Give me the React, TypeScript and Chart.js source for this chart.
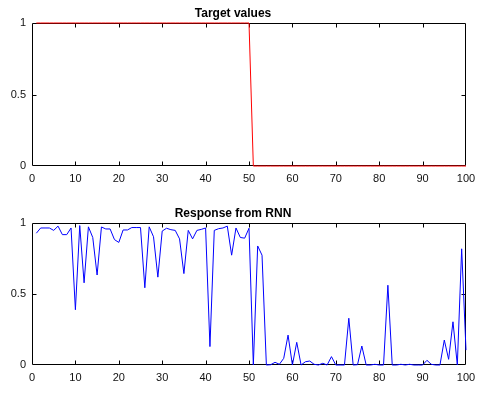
import React, { useEffect, useRef } from "react";
import { Chart, registerables } from "chart.js";

Chart.register(...registerables);

const targetValues: number[] = [
  1, 1, 1, 1, 1, 1, 1, 1, 1, 1,
  1, 1, 1, 1, 1, 1, 1, 1, 1, 1,
  1, 1, 1, 1, 1, 1, 1, 1, 1, 1,
  1, 1, 1, 1, 1, 1, 1, 1, 1, 1,
  1, 1, 1, 1, 1, 1, 1, 1, 1, 1,
  0, 0, 0, 0, 0, 0, 0, 0, 0, 0,
  0, 0, 0, 0, 0, 0, 0, 0, 0, 0,
  0, 0, 0, 0, 0, 0, 0, 0, 0, 0,
  0, 0, 0, 0, 0, 0, 0, 0, 0, 0,
  0, 0, 0, 0, 0, 0, 0, 0, 0, 0,
];

const rnnResponse: number[] = [
  0.93, 0.967, 0.967, 0.967, 0.95, 0.98, 0.92, 0.92, 0.967, 0.39,
  0.984, 0.58, 0.975, 0.9, 0.635, 0.974, 0.96, 0.96, 0.885, 0.865,
  0.953, 0.953, 0.97, 0.97, 0.97, 0.545, 0.975, 0.905, 0.62, 0.945,
  0.965, 0.955, 0.95, 0.89, 0.645, 0.95, 0.89, 0.95, 0.957, 0.967,
  0.13, 0.95, 0.962, 0.967, 0.98, 0.775, 0.967, 0.9, 0.895, 0.965,
  0.0, 0.84, 0.775, 0.0, 0.002, 0.019, 0.005, 0.047, 0.211, 0.0,
  0.16, 0.0, 0.023, 0.028, 0.005, 0.0, 0.012, 0.0, 0.059, 0.0,
  0.0, 0.0, 0.33, 0.0, 0.002, 0.134, 0.0, 0.0, 0.005, 0.0,
  0.0, 0.563, 0.0, 0.0, 0.005, 0.0, 0.005, 0.0, 0.0, 0.0,
  0.033, 0.005, 0.0, 0.0, 0.176, 0.04, 0.305, 0.0, 0.82, 0.105,
];

const xTickStep = 10;
const yTickStep = 0.5;
const xMin = 0;
const xMax = 100;
const yMin = 0;
const yMax = 1;

const FONT = "'Liberation Sans', Arial, Helvetica, sans-serif";

const boxPlugin = {
  id: "matlabBox",
  beforeDatasetsDraw(chart: any) {
    const { ctx, chartArea: a, scales } = chart;
    const L = Math.round(a.left) + 0.5;
    const R = Math.round(a.right) - 0.5;
    const T = Math.round(a.top) + 0.5;
    const B = Math.round(a.bottom) - 0.5;
    ctx.save();
    ctx.strokeStyle = "#000";
    ctx.lineWidth = 1;
    ctx.beginPath();
    ctx.rect(L, T, R - L, B - T);
    const tl = 4;
    scales.x.ticks.forEach((t: any) => {
      const px = Math.round(scales.x.getPixelForValue(t.value)) + 0.5;
      if (px <= L + 1 || px >= R - 1) return;
      ctx.moveTo(px, B);
      ctx.lineTo(px, B - tl);
      ctx.moveTo(px, T);
      ctx.lineTo(px, T + tl);
    });
    scales.y.ticks.forEach((t: any) => {
      const py = Math.round(scales.y.getPixelForValue(t.value)) + 0.5;
      if (py <= T + 1 || py >= B - 1) return;
      ctx.moveTo(L, py);
      ctx.lineTo(L + tl, py);
      ctx.moveTo(R, py);
      ctx.lineTo(R - tl, py);
    });
    ctx.stroke();
    ctx.restore();
  },
};

function makeConfig(title: string, values: number[], color: string, titleTop: number): any {
  const points = values.map((v, i) => ({ x: i + 1, y: v }));
  return {
    type: "line",
    data: {
      datasets: [
        {
          data: points,
          borderColor: color,
          borderWidth: 1,
          pointRadius: 0,
          tension: 0,
          fill: false,
          clip: false,
        },
      ],
    },
    options: {
      animation: false,
      responsive: false,
      maintainAspectRatio: false,
      layout: { padding: { left: 0, right: 24, top: 0, bottom: 0 } },
      plugins: {
        legend: { display: false },
        tooltip: { enabled: false },
        title: {
          display: true,
          text: title,
          color: "#000",
          font: { family: FONT, size: 12, weight: "bold", lineHeight: 1.2 },
          padding: { top: titleTop, bottom: 2.6 },
        },
      },
      scales: {
        x: {
          type: "linear",
          min: xMin,
          max: xMax,
          grid: { display: false, drawTicks: false },
          border: { display: false },
          ticks: {
            stepSize: xTickStep,
            color: "#111",
            font: { family: FONT, size: 11 },
            padding: 6,
            maxRotation: 0,
            autoSkip: false,
            callback: (v: any) => String(v),
          },
          afterFit: (s: any) => {
            s.height = 32;
          },
        },
        y: {
          type: "linear",
          min: yMin,
          max: yMax,
          grid: { display: false, drawTicks: false },
          border: { display: false },
          ticks: {
            stepSize: yTickStep,
            color: "#111",
            font: { family: FONT, size: 11 },
            padding: 6,
            callback: (v: any) => String(v),
          },
          afterFit: (s: any) => {
            s.width = 32;
          },
        },
      },
    },
    plugins: [boxPlugin],
  };
}

function Panel(props: { title: string; values: number[]; color: string; top: number; height: number; titleTop: number }) {
  const ref = useRef<HTMLCanvasElement | null>(null);
  useEffect(() => {
    if (!ref.current) return;
    const chart = new Chart(ref.current, makeConfig(props.title, props.values, props.color, props.titleTop));
    return () => chart.destroy();
  }, []);
  return (
    <canvas
      ref={ref}
      width={490}
      height={props.height}
      style={{ position: "absolute", left: 0, top: props.top, width: 490, height: props.height }}
    />
  );
}

export default function App() {
  return (
    <div style={{ position: "fixed", left: 0, top: 0, width: 490, height: 397, background: "#fff" }}>
      <Panel title="Target values" values={targetValues} color="#ff0000" top={0} height={198} titleTop={6} />
      <Panel title="Response from RNN" values={rnnResponse} color="#0000ff" top={198} height={199} titleTop={8.3} />
    </div>
  );
}
